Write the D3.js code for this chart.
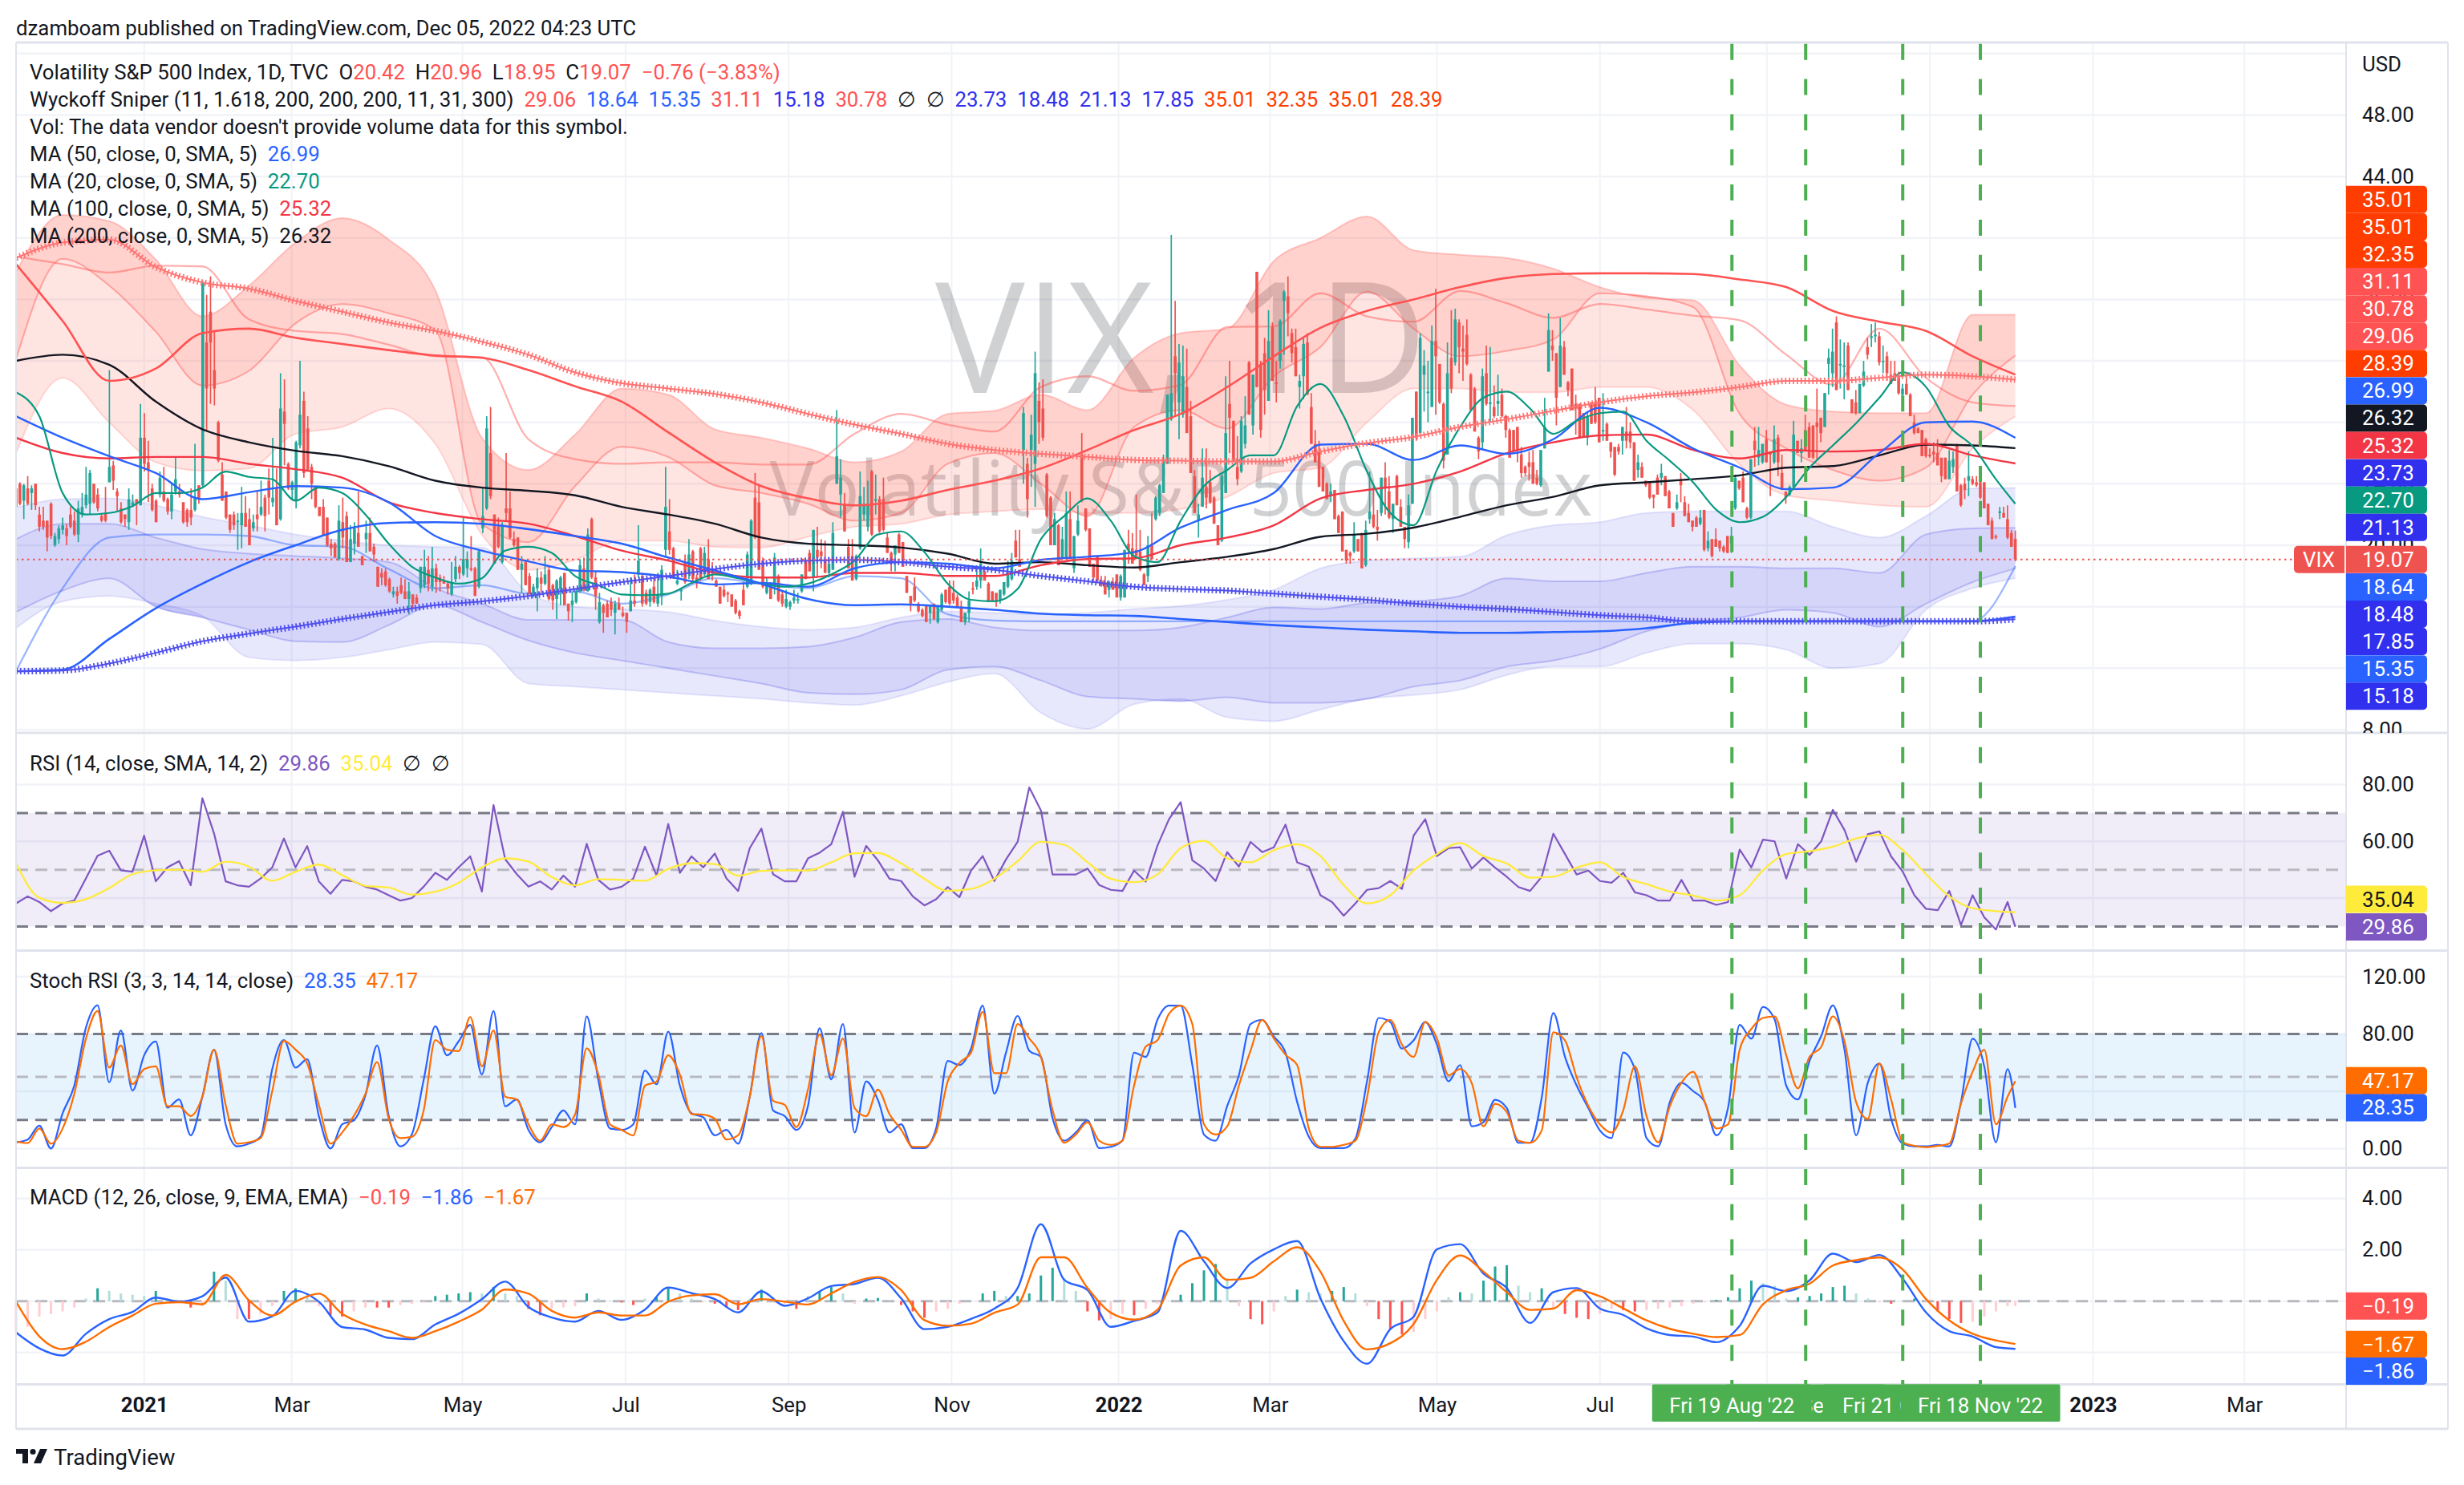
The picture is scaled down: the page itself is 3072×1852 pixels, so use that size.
<!DOCTYPE html>
<html>
<head>
<meta charset="utf-8">
<script src="https://cdn.jsdelivr.net/npm/d3@7"></script>
<style>
html,body{margin:0;background:#fff}
svg{display:block}
text{font-family:Roboto,"Noto Sans",sans-serif;font-size:25.8px;fill:#131722}
</style>
</head>
<body>
<svg id="chart" width="3072" height="1852"></svg>
<script>
// daily candles [open, high, low, close]
const ohlcPart1=[[23.7,25,22.3,22.5],[24,24.1,22.6,22.7],[22.9,24,21.7,23.9],[23.7,24.5,22.6,22.7],[23.4,23.9,22.3,23.7],[24,24,22.3,22.6],[22,22.5,20.9,21.2],[21.6,22.5,21,21.2],[21.6,21.6,19.6,20.5],[22.7,22.8,20.4,20.6],
[20,20.8,19.9,20.6],[20.4,21.3,20.1,21.1],[21,21.8,20.7,21.3],[21.1,21.4,20,20.6],[22,22.5,21.1,21.2],[21.6,22.2,20.6,20.7],[20.7,22.9,20.2,22.4],[22,23.4,21.8,22.5],[22.6,25.1,22.4,23.3],[22.7,24.9,22,24.7],
[24,24,22.7,22.8],[23.3,23.7,22.2,22.4],[21.9,22.1,21.5,21.6],[22.1,23.8,21.5,21.6],[24.1,31.4,24.1,25.1],[25.2,25.5,23.6,24.2],[23.5,23.7,22.2,23.2],[22.4,22.8,21.4,21.5],[22,22,21.2,21.7],[21.5,23.7,21,23],
[22.6,23.3,22.5,22.8],[23,23,21.3,22.7],[22.6,29.2,22.6,27],[27,28.6,24.8,25.3],[25.4,26.8,22.8,24.9],[23.7,24,22.2,22.3],[22.9,23,21.5,21.5],[23.3,24.8,23.1,24.4],[23.5,25.1,22.8,22.9],[23,23.1,22,22.2],
[22.2,24,21.7,23.3],[23.5,25.8,23.3,24.3],[23.5,24,23.1,23.3],[22.8,22.8,21.4,21.5],[22.3,22.4,21.2,21.5],[22.3,23.7,21.3,21.8],[22.3,26.6,22.2,23.1],[23.9,23.9,22.7,23],[23.9,37.2,23.8,37.1],[33.2,36.3,27.4,30.2],
[35.2,37.5,29.2,33.2],[31.4,34,29.1,30.2],[28,28.1,25.4,25.5],[24.6,25.4,22.9,22.9],[23.5,23.5,21.7,21.8],[22,22,20.8,21],[22,22.2,21,21.3],[21.5,22.1,19.7,21.6],[21.3,23.8,19.8,22.1],[22.1,23.2,21.2,21.2],
[21.7,22.4,20,20],[21.1,22,20.9,21.5],[22,23.5,20.9,21.7],[22,24.2,21.9,22.5],[23.1,23.3,20.9,21.9],[24.2,25,22,23.1],[22.8,27,22.5,23.1],[23.7,25,21.3,21.3],[21.7,31.2,21.6,28.9],[28.7,30.8,25.2,27.9],
[25.3,25.4,23.6,23.7],[23.6,24.2,23,24.1],[22.9,26.8,22.4,26.7],[26.5,32,26.3,28.5],[29.4,30,24.4,24.7],[27.6,28.4,24.9,24.9],[25.1,25.3,23,24],[23.8,23.8,22.4,22.5],[22.5,22.5,21.9,21.9],[22.5,23,20.6,20.6],
[21.8,21.8,19.9,20],[20.1,20.4,19.3,19.8],[20.1,20.2,19.2,19.2],[19.1,22.6,19,21.6],[21.5,23.1,19.8,20.5],[21.9,22.2,18.9,18.9],[18.9,21.3,18.9,20.4],[20.1,21.5,19.4,21.1],[20.8,23.5,19.9,19.9],[19.3,19.3,18.7,18.7],
[20.4,21.6,19.5,20.8],[20.8,21.8,19.6,19.6],[19.9,20.1,18.9,19.4],[18.6,18.6,17.3,17.3],[18.2,18.5,17.4,17.9],[18.3,18.5,17.3,17.4],[17.8,17.9,16.9,17],[16.8,17.3,16.6,17],[17,17.3,16.2,16.7],[17.4,17.9,16.8,16.9],
[17,17.8,16.5,16.5],[16.5,17.6,15.5,17],[16.8,16.8,15.9,16.2],[16.6,16.8,16.2,16.2],[17.2,18.6,16.9,18.6],[17.4,19.7,17.2,18.6],[18.4,19.3,17,17.5],[17.3,19.9,17,18.5],[18.5,18.8,16.9,17.6],[17.9,18.1,17,17.6],
[17.7,18,17.5,17.5],[17.5,17.6,16.8,17.2],[16.8,18.9,16.7,17.6],[17.8,19.3,17.6,18.6],[18.6,18.7,17.8,18.2],[18.1,21.8,18,19.1],[18.5,19.6,17.9,19.1],[18.5,20.6,18.3,18.4],[18.5,18.6,16.7,16.7],[17.3,19.7,17.2,19.6],
[21.1,23.7,20.8,21.9],[22.4,28.4,22.3,27.6],[26,29,23,23.2],[22,22,18.8,18.8],[21.2,21.8,19.8,19.9],[18.9,21.5,18.8,21.3],[22.4,26,21.6,22.1],[22.4,23.5,20.4,20.5],[20.4,20.9,19.9,20],[20.5,20.5,18.4,18.4],
[18.4,19.3,16.9,18.8],[18.9,19,17.4,17.4]];
const ohlcPart2=[[18,18.2,16.8,16.8],[16.8,17.5,16.6,17.3],[17.2,18.5,15.7,17.9],[17.9,18.3,16.9,17.5],[17.5,19.3,17.4,18.1],[18.4,18.7,16.4,16.5],[17.4,17.5,15.8,16.4],[16.5,17.8,15.2,17.7],[17.1,18,16.1,17.9],[18.2,18.2,16.1,16.1],
[16.2,16.2,15.1,15.7],[16.1,17,15,16.4],[16.3,17.2,16.2,17],[17,19.1,16.9,18.7],[18.5,19.2,17,17.1],[17,21.1,17,20.7],[21.7,21.8,17.8,17.9],[17.9,18.3,15.8,16.7],[15,16.9,14.9,16.3],[16.1,16.2,14.3,15.6],
[16.2,16.4,15.3,15.3],[16.3,16.6,15.4,15.8],[15.6,16.4,14.2,16.2],[16.2,16.6,15.8,15.8],[15.6,16,15.3,15.4],[15.6,15.6,14.3,15],[15.7,17.9,15.7,16.4],[16.4,18.1,16,16.2],[18.1,21.3,17.9,19],[18,18.2,16,16.2],
[16.9,17.1,16.1,16.2],[16.3,17.2,16,17.1],[17.3,17.9,16.2,16.3],[16.2,18.2,16,16.8],[16.7,18.7,16.1,18.4],[19.7,25.1,19.3,22.5],[20.9,23,19.4,19.7],[19.8,19.9,17.8,17.9],[17.5,18.4,17.4,17.7],[17,17.2,16.4,17.1],
[18.9,19.4,17.5,17.6],[18.1,20.4,17.8,19.4],[19.6,19.7,17.5,17.8],[17.9,18.1,17.2,17.6],[19.8,19.9,17.7,17.8],[18.1,19.9,18,19.5],[19.1,20.4,17.8,17.8],[18.4,18.9,17.7,18.2],[17.7,17.8,17.3,17.3],[17.3,17.3,16.2,16.2],
[17.1,17.4,16.6,16.7],[16.9,17,16.3,16.8],[16.8,16.8,16,16],[16.4,16.5,15.5,15.6],[15.7,15.8,15.2,15.4],[17.1,17.6,16.1,16.1],[17.3,19.6,17.2,19.4],[17.5,21.7,17.4,21.6],[23.1,24.7,20.4,20.5],[22.8,23.9,18.4,18.4],
[19,19.2,17.2,17.3],[16.9,17.9,16.8,17.5],[17.5,17.6,16.5,16.5],[17.4,19.5,16.8,19.2],[18,18.1,16.3,16.4],[16.8,17,16,16.2],[16,17.1,15.9,16.5],[16,16.4,15.8,16.3],[16.4,17.1,16.2,16.6],[16.4,16.9,16.2,16.5],
[17,18.1,16.9,18.1],[19,19.1,17.8,17.8],[19.5,19.7,18.3,18.3],[17.9,21,17,21],[19.7,21.2,17.9,19.2],[19.6,20.4,18.5,19.3],[19.1,20.3,18.2,18.2],[18.2,19.2,17.9,18.8],[18.4,21.5,18.4,20.8],[24,28.8,24,25.8],
[23.3,25.6,21.8,24.4],[22.7,23.4,20.9,20.9],[19.9,20.4,18.5,18.5],[19.3,20.4,17.7,17.7],[17.8,19.4,17.7,19.3],[19.8,24.8,19.7,23.2],[22,23.8,21.6,22.7],[21.2,24.2,20.9,22.7],[24.8,24.9,20.6,20.7],[22.9,24.6,22,23],
[23,23.2,20.8,20.9],[23,24.4,20.9,21],[20.5,20.8,19.5,19.5],[19.5,19.6,18.3,18.8],[19.4,20,18.3,20],[20.7,20.8,19.5,19.5],[20.2,20.2,18.6,18.6],[18,18,16.9,16.9],[16.7,16.7,15.7,16.2],[17.3,17.9,16.3,16.4],
[16.2,16.3,15.6,15.7],[15.8,15.9,15.3,15.4],[16.1,16.1,15,15],[15.6,16.1,14.9,16.1],[16.2,16.2,15.1,15.2],[15,16,14.9,16],[15.8,16.9,15.7,16.8],[17.1,17.1,16.2,16.3],[17.3,17.7,16.1,16.2],[16.9,17.7,16.2,16.4],
[16.6,16.8,16,16],[16,16.4,15,15],[15,15.6,14.8,15.6],[15.6,17,15,16.4],[17.2,17.6,16.8,17.1],[17.3,18.5,17.1,17.7],[17.7,19.8,17.2,18.8],[18.3,18.4,17.7,17.7],[17.5,17.6,16.3,16.3],[17,17,16.4,16.4],
[16.9,16.9,16,16.3],[16.4,17.1,16.2,17.1],[16.8,17.6,16.7,17.6],[17.3,19,17.2,18.1],[17.8,19.5,17.7,19],[20.3,21,19.2,19.2],[19.1,21,18.6,18.6],[26.2,29,24,28.6],[25.3,25.7,21.8,23],[26.2,28.5,23.8,27.2],
[25.3,32.6,22.5,31.2],[29.4,30.6,26.6,28]];
const ohlcPart3=[[28.9,30.8,26.8,27],[24.6,24.7,21.8,21.9],[23.1,23.2,20,20],[20,22.1,20,21.7],[21.3,21.4,18.7,18.7],[19.1,21.2,19.1,20.4],[19.2,23.5,19.1,22.1],[21.7,23.5,19.1,19.1],[18.5,20.6,18.2,20.6],[20.7,22.6,20.6,21.6],
[25.9,27.3,22.8,22.9],[22.4,22.4,20.9,21],[21.1,21.1,18.6,18.6],[18.8,18.8,17.6,17.9],[19.3,19.3,17.6,17.7],[17.7,18,17.3,17.4],[17.6,18,16.8,16.8],[17.1,17.7,16.6,17.6],[17.6,17.9,17.1,17.1],[18.1,18.1,16.6,16.6],
[16.6,18.1,16.4,18],[16.6,19.7,16.6,19.7],[20.1,21,18.8,19.7],[19.8,20.8,18.8,18.8],[19.7,23.3,19.3,19.3],[19.6,21,18.3,18.4],[18.1,18.2,17.4,17.4],[18,20.6,17.6,20],[20.1,22.1,19.1,19.1],[21.7,23.2,21.6,23.1],
[22.1,24,21.9,23.9],[23.4,25.9,23.4,25.6],[25.3,29.8,25.3,29.8],[28.2,40.2,28.1,29.9],[32.3,35.9,28.4,31.2],[29.3,33.1,26.9,31.9],[28.5,33,28.3,31],[30.3,32.8,27.3,27.3],[28.4,29.4,24.7,24.7],[24.5,24.9,22.1,22.1],
[21.6,22.7,20.5,22],[22.5,26.3,22.5,24.4],[23.8,26.3,22.4,23.1],[24.1,24.9,22.7,22.8],[23.1,23.2,21.4,21.4],[21.3,21.3,20,20],[20.3,24.6,20.2,24.5],[23.4,31,23.4,27.3],[29.2,32,26,28.3],[28.1,28.1,25.5,25.5],
[25.1,27.1,23.9,24.3],[24.8,28.4,24.7,28.1],[26.6,29.7,26.3,27.8],[31.9,32,28.5,28.5],[27.8,31.1,27.2,31.1],[37.8,37.8,30.3,30.3],[31.8,32,27,27.5],[32.5,33.5,28.5,30.1],[29.4,35.3,29.4,33.3],[34.2,34.5,30.7,30.7],
[30.6,32,29.3,30.5],[32,34.7,31.5,34.6],[35.9,36.6,32.4,36.5],[36.2,37.5,33.6,35.1],[33.8,34.1,31.9,32.5],[32.9,34.1,31,31],[30.3,31.1,28.9,30.7],[31,33.5,29.5,33.1],[33.2,33.8,29.8,29.8],[29,29.9,26.6,26.6],
[26.6,27.5,25.4,25.4],[26.1,26.8,23.8,23.8],[25.1,25.1,23.5,23.5],[24,24.1,23,23],[23.2,24,22.8,23.5],[23.6,23.6,21.7,21.7],[21.9,22,20.8,20.8],[22.2,22.2,19.6,19.6],[19.7,19.7,18.8,19],[19.5,19.6,18.8,19.3],
[19.6,21.5,19.5,20.7],[20.4,20.4,19.6,19.6],[20.8,20.8,18.5,18.5],[18.7,21.6,18.6,21],[21.7,24.8,21.4,22.2],[22,23.8,21.1,21.2],[21.2,22.3,20.3,21],[22.1,24.4,21.9,24.4],[24.4,25.4,22,23.8],[23.5,24.5,21.7,21.8],
[21.7,22.7,20.8,22.7],[24.5,24.6,22.6,22.6],[22.5,23,21.2,21.2],[21.2,21.2,19.8,20.4],[20.2,23.3,19.8,22.6],[22.7,28.3,22.7,28.3],[30,30,26.8,27],[27.3,33.8,27.3,33.5],[31.1,32.7,28.7,31.7],[29.9,32,28,30],
[29,34.3,29,33.3],[33.3,36.7,28.5,32.3],[31.8,31.8,29.2,29.3],[29.2,29.3,25,25.5],[25.9,33.2,25.9,31.2],[32.2,35.3,29.9,30.2],[31.9,35.4,31.7,34.7],[34.5,34.7,31.2,32.9],[32.8,34.3,30.7,32.6],[33.7,34.7,31.7,31.8],
[31.1,31.2,28.8,28.8],[30.2,30.3,27.4,27.4],[27,27.1,25.6,26.1],[26.7,31.5,26.2,31],[31.2,33,29.1,29.2],[29.2,32.9,28,29.3],[29,30.4,28.3,28.4],[29.2,31.1,28.4,29.4],[29.8,30.2,28.3,28.4],[28.4,28.5,27,27.5],
[27.5,27.6,25.7,25.7],[27.5,27.5,26.1,26.1],[27.7,27.7,25.4,26.2],[25.9,26.4,24.4,24.7],[25.1,25.2,24.5,24.7],[25.4,26.1,24.2,25.1],[25.4,26.2,24,24],[24.4,24.9,23.9,24],[23.9,26.2,23.8,26.2],[26.3,29.6,26.3,27.7],
[31.3,35.1,31.3,34]];
const ohlcPart4=[[33,34,32,32.7],[32.5,32.5,27.8,29.6],[30.3,34.8,30.3,33],[32.9,33.3,31.1,31.1],[30.6,30.7,29.7,30.1],[31.5,31.5,28.8,28.8],[29.2,29.8,27.2,28.9],[29.2,29.2,27,27],[28.6,28.6,27,27],[27,28.7,26.5,28.4],
[29.3,29.3,27.9,27.9],[29.3,30.3,27.9,28],[29.6,29.6,26.7,26.7],[27.4,29.9,26.8,27.5],[27.9,28,26.8,26.8],[26.7,26.7,25.7,26.1],[26.4,26.4,24.5,24.6],[26.4,26.6,25.9,26.1],[26.8,27.7,25.9,27.7],[27.4,29,26.3,26.8],
[27.4,28,26.3,26.7],[26.7,26.7,24.2,24.2],[24.9,25.9,24.4,25.4],[25.1,25.4,24.4,24.4],[24.2,24.2,23.8,23.9],[24.1,24.1,23,23.1],[23.3,23.3,22.4,23.1],[24.4,24.6,23.3,23.3],[24.4,25.3,23.9,24.7],[24.5,24.5,23.2,23.2],
[23.5,23.6,22.4,22.4],[22.1,22.1,21.2,21.2],[22.4,23.3,22.3,22.8],[24.2,24.7,22.8,23.9],[22.8,23.2,21.9,21.9],[22.1,22.7,21.5,21.5],[21.6,21.6,20.9,21.2],[21.8,21.9,21.2,21.2],[21.4,22.3,21.3,21.8],[22.3,22.3,19.6,19.7],
[19.8,20.9,19.6,20.3],[20.4,20.4,19.2,19.3],[20.4,21.1,19.9,19.9],[20.3,20.3,19.6,19.8],[19.9,20,19.5,19.6],[20.6,20.6,19.5,19.5],[20.1,21.2,19.5,20.6],[22.4,24.6,22.3,24.4],[24.2,24.2,23.6,23.7],[24.4,24.8,22.8,22.8],
[22.4,22.5,21.7,21.8],[21.8,25.6,21.7,25.6],[26.8,27.7,25.1,26.2],[25.7,27.7,25.2,26.2],[25.4,26.6,25.3,26.6],[26.9,27.5,25.4,25.4],[26.1,26.1,23.2,25.9],[25.4,27.8,25.3,26.9],[27,27.2,24.5,25.4],[24.7,25.9,23.6,23.6],
[23.5,23.5,22.7,23.1],[23.3,23.9,23.2,23.8],[23.8,28.1,23.7,27.2],[26.8,26.8,26,26],[26,26.9,25.4,26.3],[27.5,28.5,26.1,26.1],[27.7,28,25.7,25.7],[27.8,27.8,25.6,25.7],[28,30.2,25.6,27.7],[28.3,28.3,26.7,27.3],
[27.7,29.9,27.7,29.9],[31.8,32.8,29.8,32.2],[31.2,34.1,30.3,32.6],[34.5,34.9,30.1,30.1],[31.7,33.4,30.2,31.8],[31.6,33.2,29.5,31.7],[33,33.2,30.1,30.1],[29.5,29.5,28.6,28.6],[29.3,30.1,28.5,28.6],[28.6,30.5,28.6,30.5],
[30.4,32,30.3,31.3],[32.9,33.5,32.1,32.4],[33.5,34.4,32.9,33.6],[33.6,34.5,33.2,33.7],[33.6,33.9,31.7,31.9],[32,33,31.2,32],[32.3,32.6,30.7,31.2],[31.1,32,30.5,30.5],[31.2,32,30.7,30.7],[31,31.3,29.8,29.9],
[29.8,30.5,29.2,30.2],[30.5,31.2,29.8,29.8],[29.8,29.9,28.4,28.4],[28,28.5,27.2,27.3],[27.6,27.7,27.3,27.3],[27.5,27.5,25.8,25.8],[26.9,27,25.7,25.8],[25.9,26.3,25.7,25.8],[26.1,26.7,25.4,25.9],[26,26.9,25.2,25.2],
[25.7,25.7,24.1,24.5],[25.7,25.7,24.3,24.3],[24.3,26.2,24.3,25.5],[25.1,26.1,24.7,25.6],[26.5,26.6,23.5,23.5],[23.9,24,22.5,22.6],[24,24.4,23,23.6],[24.2,26.1,23.2,24.5],[24.3,24.5,23.9,24],[24.1,24.5,23.8,23.9],
[24.1,25,23,23.1],[24.1,24.1,22.4,22.4],[22.7,22.7,21.3,21.3],[21.6,21.8,20.4,20.4],[20.6,20.7,20.4,20.5],[22.1,22.5,21.7,22.2],[22.1,22.5,21.8,21.8],[21.7,22.6,20.4,20.5],[20.8,21,19.9,19.9],[20.42,20.96,18.95,19.07]];

// Wyckoff Sniper channels and moving averages, one reading every 12 bars
const sniperUpperCross=[38.7,39.7,39.9,38.1,37.1,36.7,35.9,35.2,34.5,33.95,33.25,32.4,31.25,30.55,30.2,29.85,29.3,28.55,27.85,27.25,26.6,26.2,25.95,25.75,25.55,25.5,25.45,25.45,26.1,26.65,27.05,27.7,28.2,28.75,29.3,29.7,29.95,30.3,30.7,30.7,30.9,31.1,31,30.78];
const sniperUpperArc=[38.3,34.6,30.7,31.5,33.8,34.1,33.5,33.1,32.7,32.35,32.2,31.4,30.35,29.35,27.35,25.4,23.85,23.05,22.6,22.9,23.6,24.2,25,26.2,27.5,28.55,30.3,32.3,34.15,35.25,36,36.8,37.4,37.65,37.7,37.7,37.65,37.3,36.8,35.25,34.55,33.95,32.3,31.11];
const sniperUpperThin=[38.8,38.3,37.75,38.2,38.15,34.7,33.95,33.75,33.05,32.3,32.25,26.9,25.6,25.3,25.4,25.4,25.25,25.25,27.25,28.55,27.85,27.4,30.3,31,30.05,30.45,34.2,34.25,36.4,34.9,34.55,36.55,35.75,34.8,35.7,35.35,34.95,34.65,32.4,30.45,34.1,30.9,29.3,29.06];
const redBandTop=[37.8,41.5,41.1,38.6,34.9,36.9,39.7,41.3,39.9,36.6,27,24.9,27.2,30.2,29.8,27.55,27,26.3,25.4,26.1,28.55,28.75,29.8,28.8,32.2,33.8,34.1,38.5,40,41.4,39.2,38.9,38.7,38,36.8,36.1,35.95,31.7,29.15,28.7,28.6,28.6,35,35.01];
const redBandMid=[32.1,38.65,36.9,33.9,30.4,31.35,34.45,35.7,35.1,34,21.4,20.2,23.85,26.4,25.75,23.9,23.4,22.7,21.6,22.1,25.3,26,24,21.9,27.7,28.8,27.6,31,32.9,36.5,34.1,32.3,32.65,33.4,36.4,36.2,35.5,28.55,26.3,24.9,24.2,25.05,29.8,32.35];
const redBandLow=[26,30.9,28,25.4,24.85,25,27.25,27.7,28.9,26.6,20.7,18.4,19.05,20.3,20.3,19.9,19.85,20.55,21.2,21.4,22,22.2,22.35,22.1,22.1,22.35,23.15,24.7,25.05,28,30.2,30.2,29.95,29.95,30.3,30.3,28.8,25.25,23.25,22.9,22.6,22.5,26.3,28.39];
const sniperLowerCross=[11.8,11.85,12.3,13,13.75,14.25,14.7,15.2,15.65,16.1,16.35,16.7,17.15,17.6,18,18.45,18.8,19,19.05,18.9,18.6,18.4,18,17.65,17.3,17.15,17.05,16.85,16.65,16.45,16.2,16,15.85,15.65,15.45,15.3,15.05,15.05,15.05,15.05,15.05,15.05,15.05,15.18];
const sniperLowerArc=[11.8,11.9,13.9,15.9,17.5,18.9,20,21,21.45,21.5,21.4,21.05,20.6,20.1,19.2,18.35,17.5,16.5,16.1,16.15,16,15.8,15.55,15.45,15.4,15.2,15,14.8,14.65,14.5,14.4,14.3,14.3,14.35,14.4,14.6,14.95,15.05,15.05,15.05,15.05,15.05,15.05,15.35];
const sniperLowerThin=[11.8,17.2,20.5,20.7,20.7,20.6,20,19.9,18.45,17.2,17.4,16.85,17,16.2,16.8,17.85,17.5,17.2,18,17.85,15.5,15.1,15.05,15.05,15.05,15.05,15.05,15.05,15.05,15.05,15.05,15.05,15.05,15.05,15.05,15.05,15.05,15.05,15.05,15.05,15.05,15.05,15.05,18.64];
const blueBandTop=[22.45,23,23.05,22.6,21.85,21.3,20.7,20.3,20,19.9,19.85,16.9,16,15.85,15.65,15.1,14.7,14.5,14.65,15.3,15.7,15.6,15.5,15.6,15.85,16.05,16.45,17.1,18.5,19,19.15,19.25,20.65,21.3,21.5,22.1,22.2,22.2,22.2,21.2,20.5,21.9,23.7,23.73];
const blueBandMid=[20.4,21.4,21.4,20.5,19.75,19.45,19.3,19.15,18.9,17.2,16.2,15.15,15.15,15.15,13.7,13.3,13.3,13.4,14,15,15.2,14.65,14.45,14.45,14.45,14.65,15.3,15.95,15.85,16.25,16.35,16.7,17.85,17.65,17.65,18.2,18.6,18.6,18.5,18.5,18.2,20.7,21.1,21.13];
const blueBandLowA=[15.65,17.05,17.85,16,15.3,14.5,13.75,13.7,14.8,16.1,15,13.8,13,12.5,12,11.5,11,10.4,10.3,10.6,11.9,12.1,11.2,10.15,10,9.85,10.1,9.75,9.75,10,10.8,11.2,12.1,12.5,13.25,14.4,15,15.3,15.8,15.6,14.7,16.2,17.6,18.48];
const blueBandLowB=[14.6,16.35,16.7,16.2,15.4,12.7,12.5,12.7,13.2,13.7,13.55,11,10.8,10.6,10.4,10.2,10,9.75,9.6,10.2,11.1,11.65,9.1,8.05,9.65,10,8.8,8.55,9.3,10,10.25,10.6,11.55,12.1,12.1,13,13.6,13.6,13.2,12,12.3,15.8,17.2,17.85];
const ma200=[32,32.4,31.75,29.35,27.55,26.7,26.15,25.8,25.15,24.2,23.75,23.55,23.25,22.5,22,21.4,20.5,20.1,20,19.85,19.45,18.8,18.9,18.7,18.55,18.9,19.25,19.75,20.55,20.75,21.15,21.85,22.6,23.15,23.9,24.1,24.3,24.55,25.05,25.15,25.85,26.55,26.5,26.32];
const ma100=[27,26,25.65,25.75,25.75,25.3,24.95,24.4,22.8,22.1,21.7,21.4,20.6,19.65,19,18.2,17.9,17.9,18.2,18.2,18,18,18.7,19.1,19.15,20,20.5,21.3,23.05,23.6,24,24.8,26,26.7,27.15,27.2,26.2,25.65,26.2,26.1,26.2,26.6,25.85,25.32];
const ma50=[28.4,27,25.8,24.7,23,23.45,23.85,23.75,22.8,20.6,19.65,18.95,18.35,18.25,17.95,17.45,17.55,17.3,18.5,18.9,18.8,18.5,19.05,19.25,19.55,21.15,22.3,23.4,26.55,26.6,25.55,26.5,25.95,26.9,28.95,28,26.3,25.05,23.65,23.75,26,28,28.05,26.99];
// the 20 day average moves faster, one reading every 6 bars
const ma20=[29.95,28.4,23.4,22,22.1,22.55,23.4,23.4,23.75,24.8,24.45,24.3,22.9,23.75,23.4,22,20.1,18.6,17.9,17.5,17.85,19.65,19.9,19.5,18,17.4,16.8,16.75,16.85,17.55,18.1,17.85,17.5,17.3,17.5,18.1,19,20.7,20.9,19.55,17.5,16.45,16.35,17.15,20.4,21.9,23.05,21.6,19.3,18.9,21.6,23.85,24.9,25.85,25.85,29.05,30.5,28.4,24.8,22.1,21.3,24.9,27.7,29.6,30,28.9,27.25,28.1,28.6,28.7,26.8,25.5,24.1,22.3,21.5,21.85,23.15,25.05,26.5,27.95,29.6,31.25,30.3,27.75,26.45,24.3,22.7];

// RSI and Stoch RSI, one reading every 3 bars
const rsiValues=[38.1,40.6,38.6,35.4,38.1,39.1,46.9,54.9,56.7,49.8,49.3,62,45.9,50.8,53,44.5,75.2,62.8,45.9,44.5,44,46.9,50.8,61,50.8,58.3,45.9,41.5,46.4,45.9,44,43,41,39.1,40,44,48.9,46.4,50.8,54.7,42.3,72.8,53.7,48.4,44,45.9,43,47.9,44,59.1,46.4,43,44,46.9,58.1,47.9,66.1,48.9,54.7,50.8,55.7,46.9,42.5,57.6,64.5,48.4,45.9,45.9,
54,56,59,70.4,47.5,58.4,53.3,46.8,46,40.6,37.4,39.6,43.9,40.3,49.7,54.8,46,53.6,59.8,79,70.9,48.3,48.3,48.3,50.4,44.6,42.9,42.5,49.7,45.8,58.4,67.8,73.8,53.3,50.4,46,56.2,51.1,59.8,56.2,57.9,65.9,52.6,51.1,41,38.6,33.8,38.1,42.9,43.5,46,43.2,62,67.8,54.8,57.6,57.9,50.4,54.3,50.7,47.5,43.9,42.5,47.5,62.7,55.5,48.3,49.7,46,
45.4,48.9,42,41,39.1,39.1,46.4,39.1,39.1,37.6,38.6,57.1,50.8,60.6,60,46.9,59,55.2,60,71.1,64,52.8,62.5,63.5,54.7,49.3,41,36.2,35.7,42.5,30.5,41,33.2,28.9,38.6,29.86];
// the signal line is smoother, one reading every 6 bars
const rsiSignal=[52.3,40.1,38.3,39.6,43.5,48.4,49.8,50,49.3,52.8,51.1,46.1,49.3,51.8,48.1,44.3,43.7,41.2,42.2,45.4,50.8,54,52.8,47.4,44.5,46.7,46.4,46.1,50.3,52.3,52,47.9,49.6,49.8,
49.7,52.6,55.8,55.9,52.2,46.8,42.5,43.2,46.8,53,59.8,58.8,52.6,46.8,45.6,48.3,57.6,60.2,54,52.6,56.9,59,54.8,44.6,38.1,41,49.7,55.5,59.4,54.8,52.2,47.2,47.5,50.7,52.6,
47.4,44.9,42.3,40.9,39.1,41,49.8,55.5,56.5,58.1,61,62.3,56.9,48.4,40.6,36.4,35.4,35.04];
const stochK=[4.4,6.3,16,0,24.7,43.9,84.4,100,46.3,82.5,40.5,65.1,74.8,28.5,34.3,9.2,36.2,69,16.9,1.5,3.4,8.3,55.5,75.8,56.5,62.3,22.7,0,16.9,19.8,37.2,71.9,22.7,1.5,10.2,47.8,85.4,65.1,74.8,86.4,51.7,96,29.5,34.3,13,4.4,15,26.6,16.9,92.2,47.8,14,13,16.9,54.5,44.9,81.6,43.9,24.7,21.8,9.2,13,3.4,36.2,80.6,26.6,22.7,13,
29.8,84,48.3,86.9,11.2,46.9,34,11.2,16.9,0.3,0.3,14,61.2,58.3,69.8,99.8,38.3,66.9,92.6,68.3,64,21.2,5.5,11.2,19.7,0.3,1.2,5.5,66.9,64,89.8,99.8,99.8,58.3,9.8,5.5,29.8,51.2,86.9,89.8,78.3,66.9,32.6,8.3,0.3,0.3,0.3,6.9,46.9,91.2,88.3,69.8,75.5,88.3,72.6,46.9,58.3,15.5,18.3,34,28.3,4,4,35.5,94.6,64,44,28.3,12.6,
7.3,67,55.5,7.3,1.5,32.4,45.9,40.1,32.4,9.2,28.5,86.4,76.7,98.9,90.2,43.9,34.3,61.3,78.6,99.9,69,9.2,45.9,59.4,20.8,3.4,1.5,1.5,2.5,1.5,32.4,76.7,57.4,4.4,55.5,28.35];
const stochD=[5,3.8,14,3.4,14,38.2,76.7,96,56.5,71.9,44.9,55.5,57.4,29.5,29.5,22.7,36.2,69,30.5,3.4,4.4,7.3,40.1,75.2,69,59.4,30.5,3.4,11.2,22.7,38.2,60.3,20.8,7.3,8.3,26.6,75.8,69,68,91.8,57.4,82.5,36.2,34.3,16.9,5.4,16.9,15,23.7,70,51.7,16.9,13,9.2,43.9,46.8,65.1,51.7,24.1,23.7,20.8,6.3,9.2,36.2,78.6,33.3,30.5,15,
41.2,79.8,51.2,76.9,28.3,22.6,41.2,24,13.2,1.2,1.2,11.2,46.9,59.8,66.9,95.5,52.6,52.6,86.9,76.9,64,26.9,4,9.8,18.3,5.5,2.6,5.5,44,71.2,75.5,94,99.8,86.9,16.9,9.8,15.5,44,68.3,89.8,76.9,65.5,58.3,14,1.2,1.2,2.6,5.5,35.5,81.2,89.8,72.6,64,88.3,76.9,51.2,55.5,45.5,15.5,31.2,25.5,5.5,4,12.6,81.2,75.5,49.7,29.8,16.9,
11.2,26.6,57.4,22.7,4.4,29.5,45.9,53.6,32.4,14,16.9,69,83.5,91.2,92.2,65.1,42,64.2,70.9,92.2,74.8,32.4,20.8,59.4,34.3,4.4,1.9,1,1.9,3.4,31.4,53.6,69,16.9,36.2,47.17];

// MACD and signal, one reading every 6 bars, histogram every 3 bars
const macdLine=[-1.22,-1.84,-2.12,-1.27,-0.7,-0.42,0.14,-0.02,0.19,0.92,-0.8,-0.59,0.4,-0.02,-1.01,-1.11,-1.43,-1.48,-0.91,-0.49,0.08,0.76,-0.23,-0.64,-0.8,-0.38,-0.73,-0.33,0.53,0.31,0.08,-0.44,0.38,-0.18,
0.11,0.59,0.67,0.91,0.11,-1.09,-1,-0.69,-0.29,0.51,3,0.83,0.43,-1,-0.77,-0.45,2.74,1.55,0.51,1.47,2.02,2.34,0.11,-1.56,-2.44,-1.09,-0.61,2.02,2.22,1.07,0.51,-0.85,0.35,0.51,-0.29,
-0.54,-1.06,-1.32,-1.38,-1.6,-0.96,0.6,0.39,0.81,1.85,1.52,1.8,0.87,-0.44,-1.17,-1.38,-1.79,-1.86];
const macdSignal=[-0.02,-1.37,-1.87,-1.58,-1.01,-0.56,-0.1,-0.04,-0.12,1.02,0.03,-0.56,-0.02,0.29,-0.49,-0.91,-1.17,-1.43,-1.17,-0.8,-0.33,0.45,0.29,-0.38,-0.64,-0.44,-0.56,-0.56,-0.02,0.22,0.27,-0.12,0.08,-0.02,
-0.13,0.3,0.75,0.94,0.43,-0.74,-0.96,-0.88,-0.45,-0.13,1.71,1.71,0.51,-0.45,-0.72,-0.34,1.39,1.71,0.83,0.91,1.55,2.1,1.15,-0.77,-1.88,-1.64,-0.89,0.83,1.78,1.15,0.35,-0.34,-0.29,0.43,0.19,
-0.28,-0.75,-1.08,-1.27,-1.4,-1.32,-0.12,0.43,0.68,1.39,1.6,1.7,1.23,0.08,-0.75,-1.27,-1.53,-1.67];
const macdHist=[-1.2,-1,-0.6,-0.5,-0.4,-0.25,0.1,0.5,0.4,0.3,0.25,0.2,0.4,0.1,-0.02,-0.25,-0.2,1.15,0.8,-0.7,-0.7,-0.5,-0.2,0.4,0.5,0.3,-0.2,-0.55,-0.6,-0.4,-0.25,-0.25,-0.25,-0.15,-0.1,-0.05,0.2,0.25,0.3,0.35,0.3,0.55,0.3,0.2,-0.3,-0.55,-0.3,-0.25,-0.2,0.3,0.1,0.02,-0.05,-0.15,0.1,0.15,0.55,0.3,0.1,-0.05,-0.1,-0.25,-0.35,0.1,0.45,0.15,-0.1,-0.3,
0.2,0.4,0.55,0.3,-0.1,0.1,0.12,0.02,-0.15,-0.4,-0.65,-0.4,-0.3,-0.1,0.01,0.3,0.4,0.2,0.2,0.3,1,1.3,0.9,0.4,-0.4,-0.75,-0.7,-0.5,-0.55,-0.3,-0.1,0.02,0.25,0.7,1.2,1.45,0.9,-0.2,-0.7,-0.9,-0.4,0.2,0.45,0.35,0.3,0.4,0.55,0.3,-0.2,-0.7,-1.1,-1.3,-1.2,-0.7,-0.4,0.15,0.35,0.3,0.8,1.35,1.4,0.6,0.35,0.5,-0.3,-0.5,-0.65,-0.7,-0.5,
-0.3,-0.35,-0.4,-0.35,-0.3,-0.25,-0.2,-0.1,-0.05,0.05,0.15,0.5,0.8,0.7,0.6,0.1,0.15,0.2,0.3,0.55,0.6,0.3,0.1,-0.05,-0.1,0.05,0.1,-0.05,-0.4,-0.7,-0.85,-0.8,-0.6,-0.4,-0.2,-0.19];

// axis labels
const priceTicks=[48,44,40,36,32,28,24,20,16,12,8];
const priceGrid=[52,48,44,40,36,32,28,24,20,16,12,8];
const rsiTicks=[80,60,40];
const stochTicks=[120,80,40,0];
const macdTicks=[4,2,0,-2];
const timeLabels=["2021","Mar","May","Jul","Sep","Nov","2022","Mar","May","Jul","Sep","Nov","2023","Mar"];
const timeLabelBars=[33,71,115,157,199,241,284,323,366,408,451,493,535,574];
const markedDates=["Fri 19 Aug '22","Fri 23 Sep '22","Fri 21 Oct '22","Fri 18 Nov '22"];
const markedBars=[442,461,486,506];

// last value tags on the price scale
const upperTagValues=["35.01","35.01","32.35","31.11","30.78","29.06","28.39","26.99","26.32","25.32","23.73","22.70","21.13"];
const upperTagColors=["#ff3d00","#ff3d00","#ff3d00","#ff5252","#ff5252","#ff5252","#ff3d00","#2962ff","#131722","#f23645","#3030ee","#089981","#3030ee"];
const lowerTagValues=["19.07","18.64","18.48","17.85","15.35","15.18"];
const lowerTagColors=["#ef5350","#2962ff","#3030ee","#3030ee","#2962ff","#3030ee"];

const red="#ef5350",blk="#131722",blue="#2962ff",deep="#3030ee",rd2="#ff5252",org="#ff3d00";
const legendLines=[
 [["Volatility S&P 500 Index, 1D, TVC  O",blk],["20.42",rd2],["  H",blk],["20.96",rd2],["  L",blk],["18.95",rd2],["  C",blk],["19.07",rd2],["  −0.76 (−3.83%)",rd2]],
 [["Wyckoff Sniper (11, 1.618, 200, 200, 200, 11, 31, 300)  ",blk],["29.06",rd2],["  18.64",blue],["  15.35",blue],["  31.11",rd2],["  15.18",deep],["  30.78",rd2],["  ∅  ∅  ",blk],["23.73",deep],["  18.48",deep],["  21.13",deep],["  17.85",deep],["  35.01",org],["  32.35",org],["  35.01",org],["  28.39",org]],
 [["Vol: The data vendor doesn't provide volume data for this symbol.",blk]],
 [["MA (50, close, 0, SMA, 5)  ",blk],["26.99",blue]],
 [["MA (20, close, 0, SMA, 5)  ",blk],["22.70","#089981"]],
 [["MA (100, close, 0, SMA, 5)  ",blk],["25.32","#f23645"]],
 [["MA (200, close, 0, SMA, 5)  ",blk],["26.32",blk]]
];

const candles=[...ohlcPart1,...ohlcPart2,...ohlcPart3,...ohlcPart4];
const lastBar=candles.length-1;

const W=3072,paneLeft=20,paneRight=2925,outer=3052,paneTop=53;
const mainBottom=914,rsiBottom=1185.5,stochBottom=1456.5,macdBottom=1726.5,timeBottom=1782;
const gridColor="#f1f3f7",border="#e0e3eb";
const labelSize="25.8px";

const svg=d3.select("#chart");
const x=d3.scaleLinear().domain([0,lastBar]).range([paneLeft,2512.6]);
const barPx=(2512.6-paneLeft)/lastBar;
const xTime=d3.scaleLinear().domain([0,515]).range([paneLeft,2512.6]);
const yMain=d3.scaleLinear().domain([20,48]).range([680,143.5]);
const yRsi=d3.scaleLinear().domain([40,80]).range([1120,978.5]);
const yStoch=d3.scaleLinear().domain([0,80]).range([1432.4,1289.5]);
const yMacd=d3.scaleLinear().domain([0,4]).range([1622.7,1494.7]);

const defs=svg.append("defs");
defs.append("clipPath").attr("id","mainClip").append("rect").attr("x",paneLeft).attr("y",paneTop).attr("width",paneRight-paneLeft).attr("height",mainBottom-paneTop);
defs.append("clipPath").attr("id","axisClip").append("rect").attr("x",paneRight).attr("y",paneTop).attr("width",outer-paneRight).attr("height",mainBottom-paneTop);

svg.append("rect").attr("width",W).attr("height",1852).attr("fill","#fff");

// grid
const gridG=svg.append("g").attr("stroke",gridColor).attr("stroke-width",2.5);
gridG.selectAll(".v").data(timeLabelBars).join("line").attr("class","v").attr("x1",d=>xTime(d)).attr("x2",d=>xTime(d)).attr("y1",paneTop).attr("y2",macdBottom).attr("stroke-width",2);
gridG.selectAll(".p").data(priceGrid).join("line").attr("class","p").attr("x1",paneLeft).attr("x2",paneRight).attr("y1",d=>yMain(d)).attr("y2",d=>yMain(d));
gridG.selectAll(".r").data(rsiTicks).join("line").attr("class","r").attr("x1",paneLeft).attr("x2",paneRight).attr("y1",d=>yRsi(d)).attr("y2",d=>yRsi(d));
gridG.selectAll(".s").data(stochTicks).join("line").attr("class","s").attr("x1",paneLeft).attr("x2",paneRight).attr("y1",d=>yStoch(d)).attr("y2",d=>yStoch(d));
gridG.selectAll(".m").data(macdTicks).join("line").attr("class","m").attr("x1",paneLeft).attr("x2",paneRight).attr("y1",d=>yMacd(d)).attr("y2",d=>yMacd(d));

// watermark
svg.append("text").text("VIX, 1D").attr("x",(paneLeft+paneRight)/2).attr("y",490).attr("text-anchor","middle")
  .attr("textLength",613).attr("lengthAdjust","spacingAndGlyphs").style("font-size","192px").style("fill","rgba(19,23,34,.2)").style("font-family","'Open Sans'");
svg.append("text").text("Volatility S&P 500 Index").attr("x",(paneLeft+paneRight)/2).attr("y",643).attr("text-anchor","middle")
  .attr("textLength",1026).attr("lengthAdjust","spacingAndGlyphs").style("font-size","96px").style("fill","rgba(19,23,34,.2)").style("font-family","'Open Sans'");

const mainG=svg.append("g").attr("clip-path","url(#mainClip)");
const xAt=(k,step)=>x(Math.min(k*step,515)*lastBar/515);

function drawBand(g,upper,lower,step,fill,edge,scale=yMain){
  const rows=upper.map((u,k)=>[k,u,lower[k]]);
  g.append("path").datum(rows).attr("fill",fill)
    .attr("d",d3.area().curve(d3.curveMonotoneX).x(d=>xAt(d[0],step)).y0(d=>scale(d[2])).y1(d=>scale(d[1])));
  [1,2].forEach(c=>g.append("path").datum(rows).attr("fill","none").attr("stroke",edge).attr("stroke-width",2)
    .attr("d",d3.line().curve(d3.curveMonotoneX).x(d=>xAt(d[0],step)).y(d=>scale(d[c]))));
}
function drawLine(g,values,step,color,width,scale=yMain,opacity=1,curve=d3.curveMonotoneX){
  return g.append("path").datum(values).attr("fill","none").attr("stroke",color).attr("stroke-width",width).attr("stroke-opacity",opacity)
    .attr("stroke-linejoin","round").attr("d",d3.line().curve(curve).x((d,k)=>xAt(k,step)).y(d=>scale(d)));
}

// channels
drawBand(mainG,redBandTop,redBandMid,12,"rgba(255,82,60,.26)","rgba(255,82,82,.28)");
drawBand(mainG,redBandMid,redBandLow,12,"rgba(255,82,60,.15)","rgba(255,82,82,.2)");
drawBand(mainG,blueBandTop,blueBandMid,12,"rgba(64,64,230,.12)","rgba(64,64,230,.12)");
drawBand(mainG,blueBandMid,blueBandLowA,12,"rgba(64,64,230,.22)","rgba(64,64,230,.14)");
drawBand(mainG,blueBandLowA,blueBandLowB,12,"rgba(64,64,230,.12)","rgba(64,64,230,.12)");

drawLine(mainG,sniperUpperThin,12,rd2,2.3,yMain,.45);
drawLine(mainG,sniperLowerThin,12,blue,2.3,yMain,.45);

// last price dotted line
svg.append("line").attr("x1",paneLeft).attr("x2",paneRight).attr("y1",yMain(19.07)).attr("y2",yMain(19.07))
  .attr("stroke",red).attr("stroke-width",2).attr("stroke-dasharray","2.5 4.5");

// candles
const up="#26a69a";
const candleG=mainG.append("g");
candleG.selectAll(".wick").data(candles).join("line").attr("class","wick")
  .attr("x1",(d,i)=>x(i)).attr("x2",(d,i)=>x(i)).attr("y1",d=>yMain(d[1])).attr("y2",d=>yMain(d[2]))
  .attr("stroke",d=>d[3]>=d[0]?up:red).attr("stroke-width",1.7);
candleG.selectAll(".body").data(candles).join("rect").attr("class","body")
  .attr("x",(d,i)=>x(i)-barPx*.37).attr("width",barPx*.74)
  .attr("y",d=>yMain(Math.max(d[0],d[3]))).attr("height",d=>Math.max(1.5,Math.abs(yMain(d[0])-yMain(d[3]))))
  .attr("fill",d=>d[3]>=d[0]?up:red);

// moving averages and channel mid lines
drawLine(mainG,ma200,12,blk,2.4);
drawLine(mainG,ma100,12,"#f23645",2.4);
drawLine(mainG,ma50,12,blue,2.4);
drawLine(mainG,ma20,6,"#089981",2.2);
drawLine(mainG,sniperUpperArc,12,rd2,2.6);
drawLine(mainG,sniperLowerArc,12,blue,2.6);
[[sniperUpperCross,"#ff7474"],[sniperLowerCross,"#5050ee"]].forEach(([vals,c])=>{
  drawLine(mainG,vals,12,c,2);
  drawLine(mainG,vals,12,c,8).attr("stroke-dasharray","1.8 3.05");
});

// RSI pane
const rsiG=svg.append("g");
rsiG.append("rect").attr("x",paneLeft).attr("width",paneRight-paneLeft).attr("y",yRsi(70)).attr("height",yRsi(30)-yRsi(70)).attr("fill","rgba(126,87,194,.115)");
[[70,"#787b86"],[50,"#b8b9c0"],[30,"#787b86"]].forEach(([v,c])=>rsiG.append("line").attr("x1",paneLeft).attr("x2",paneRight).attr("y1",yRsi(v)).attr("y2",yRsi(v)).attr("stroke",c).attr("stroke-width",3).attr("stroke-dasharray","15 9"));
drawLine(rsiG,rsiValues,3,"#7e57c2",2.2,yRsi,1,d3.curveLinear);
drawLine(rsiG,rsiSignal,6,"#ffeb3b",2.3,yRsi);

// Stoch RSI pane
const stochG=svg.append("g");
stochG.append("rect").attr("x",paneLeft).attr("width",paneRight-paneLeft).attr("y",yStoch(80)).attr("height",yStoch(20)-yStoch(80)).attr("fill","rgba(33,150,243,.105)");
[[80,"#787b86"],[50,"#b8b9c0"],[20,"#787b86"]].forEach(([v,c])=>stochG.append("line").attr("x1",paneLeft).attr("x2",paneRight).attr("y1",yStoch(v)).attr("y2",yStoch(v)).attr("stroke",c).attr("stroke-width",3).attr("stroke-dasharray","15 9"));
drawLine(stochG,stochK,3,blue,2.2,yStoch);
drawLine(stochG,stochD,3,"#ff6d00",2.2,yStoch);

// MACD pane
const macdG=svg.append("g");
macdG.append("line").attr("x1",paneLeft).attr("x2",paneRight).attr("y1",yMacd(0)).attr("y2",yMacd(0)).attr("stroke","#b8b9c0").attr("stroke-width",3).attr("stroke-dasharray","15 9");
macdG.selectAll(".h").data(macdHist).join("rect").attr("class","h")
  .attr("x",(d,k)=>xAt(k,3)-1.5).attr("width",3)
  .attr("y",d=>yMacd(Math.max(d,0))).attr("height",d=>Math.abs(yMacd(d)-yMacd(0)))
  .attr("fill",(d,k)=>{
    const growing=k>0&&Math.abs(d)>=Math.abs(macdHist[k-1]);
    if(d>=0) return growing?"#26a69a":"#b2dfdb";
    return growing?"#ff5252":"#ffcdd2";
  });
drawLine(macdG,macdLine,6,blue,2.4,yMacd);
drawLine(macdG,macdSignal,6,"#ff6d00",2.4,yMacd);

// frame
const frameG=svg.append("g").attr("stroke",border);
[[paneLeft,paneTop,outer,paneTop],[paneLeft,mainBottom,outer,mainBottom],[paneLeft,rsiBottom,outer,rsiBottom],[paneLeft,stochBottom,outer,stochBottom],[paneLeft,macdBottom,outer,macdBottom],[paneLeft,timeBottom,outer,timeBottom],[paneRight,paneTop,paneRight,timeBottom],[outer,paneTop,outer,timeBottom],[paneLeft,paneTop,paneLeft,timeBottom]]
  .forEach((c,i)=>frameG.append("line").attr("x1",c[0]).attr("y1",c[1]).attr("x2",c[2]).attr("y2",c[3]).attr("stroke-width",i<6?3:2));

// value axes
function valueAxis(scale,ticks,clip){
  const g=svg.append("g").attr("transform",`translate(${paneRight},0)`).call(d3.axisRight(scale).tickValues(ticks).tickSize(0).tickPadding(20).tickFormat(d3.format(".2f")));
  g.select(".domain").remove();
  g.selectAll("text").style("font-size",labelSize).style("font-family","Roboto").attr("fill","#131722");
  if(clip) svg.append("g").attr("clip-path","url(#axisClip)").node().appendChild(g.node());
}
valueAxis(yMain,priceTicks,true);
valueAxis(yRsi,rsiTicks);
valueAxis(yStoch,stochTicks);
valueAxis(yMacd,macdTicks);

// dashed event lines
svg.append("g").selectAll("line").data(markedBars).join("line")
  .attr("x1",d=>xTime(d)).attr("x2",d=>xTime(d)).attr("y1",54.7).attr("y2",macdBottom)
  .attr("stroke","#4caf50").attr("stroke-width",4).attr("stroke-dasharray","20 23.85");

// time axis
const timeAxis=svg.append("g").attr("transform",`translate(0,${macdBottom})`)
  .call(d3.axisBottom(xTime).tickValues(timeLabelBars).tickSize(0).tickPadding(16).tickFormat((d,i)=>timeLabels[i]));
timeAxis.select(".domain").remove();
timeAxis.selectAll("text").style("font-size",labelSize).style("font-family","Roboto").attr("fill","#131722")
  .style("font-weight",(d,i)=>/^20/.test(timeLabels[i])?700:400);

// green date labels, later ones partly cover earlier ones
[1,2,0,3].forEach(k=>{
  const cx=xTime(markedBars[k]);
  svg.append("rect").attr("x",cx-99.5).attr("width",199).attr("y",macdBottom).attr("height",46.5).attr("rx",2).attr("fill","#4caf50");
  svg.append("text").text(markedDates[k]).attr("x",cx).attr("y",1755).attr("text-anchor","middle").attr("dominant-baseline","middle").style("fill","#fff");
});

// tags on the scale
function tag(y,label,color,textColor="#fff"){
  svg.append("path").attr("fill",color)
    .attr("d",`M${paneRight} ${y-17}H3021a5 5 0 0 1 5 5v24a5 5 0 0 1 -5 5H${paneRight}Z`);
  svg.append("text").text(label).attr("x",2945).attr("y",y).attr("dominant-baseline","central").style("fill",textColor);
}
const lastY=yMain(19.07);
upperTagValues.forEach((v,i)=>tag(lastY-40-34.08*(upperTagValues.length-1-i),v,upperTagColors[i]));
lowerTagValues.forEach((v,i)=>tag(lastY+34.08*i,v,lowerTagColors[i]));
svg.append("path").attr("fill",red).attr("d",`M2923 ${lastY-17}H2865a5 5 0 0 0 -5 5v24a5 5 0 0 0 5 5H2923Z`);
svg.append("text").text("VIX").attr("x",2891).attr("y",lastY).attr("text-anchor","middle").attr("dominant-baseline","central").style("fill","#fff");
tag(1121.5,"35.04","#ffeb3b","#131722");
tag(1156,"29.86","#7e57c2");
tag(1347.7,"47.17","#ff6d00");
tag(1381.4,"28.35",blue);
tag(1628.7,"−0.19",rd2);
tag(1676.7,"−1.67","#ff6d00");
tag(1710,"−1.86",blue);

// captions
svg.append("text").text("dzamboam published on TradingView.com, Dec 05, 2022 04:23 UTC").attr("x",20).attr("y",35).attr("dominant-baseline","central");
svg.append("text").text("USD").attr("x",2945).attr("y",80).attr("dominant-baseline","central");

function legend(parts,y){
  const t=svg.append("text").attr("x",37).attr("y",y).attr("dominant-baseline","central").style("white-space","pre");
  parts.forEach(([s,c])=>t.append("tspan").text(s).style("fill",c));
}
legendLines.forEach((parts,i)=>legend(parts,89.5+34*i));
legend([["RSI (14, close, SMA, 14, 2)  ",blk],["29.86","#7e57c2"],["  35.04","#ffeb3b"],["  ∅  ∅",blk]],951.5);
legend([["Stoch RSI (3, 3, 14, 14, close)  ",blk],["28.35",blue],["  47.17","#ff6d00"]],1222.5);
legend([["MACD (12, 26, close, 9, EMA, EMA)  ",blk],["−0.19",rd2],["  −1.86",blue],["  −1.67","#ff6d00"]],1492.5);

// TradingView mark
const logo=svg.append("g").attr("fill","#131722");
logo.append("path").attr("d","M20 1807H35V1825H28V1813H20Z");
logo.append("circle").attr("cx",41).attr("cy",1810.5).attr("r",3.6);
logo.append("path").attr("d","M50 1807H59L51 1825H42Z");
svg.append("text").text("TradingView").attr("x",67).attr("y",1817).attr("dominant-baseline","central").style("font-size","27.5px");
</script>
</body>
</html>
